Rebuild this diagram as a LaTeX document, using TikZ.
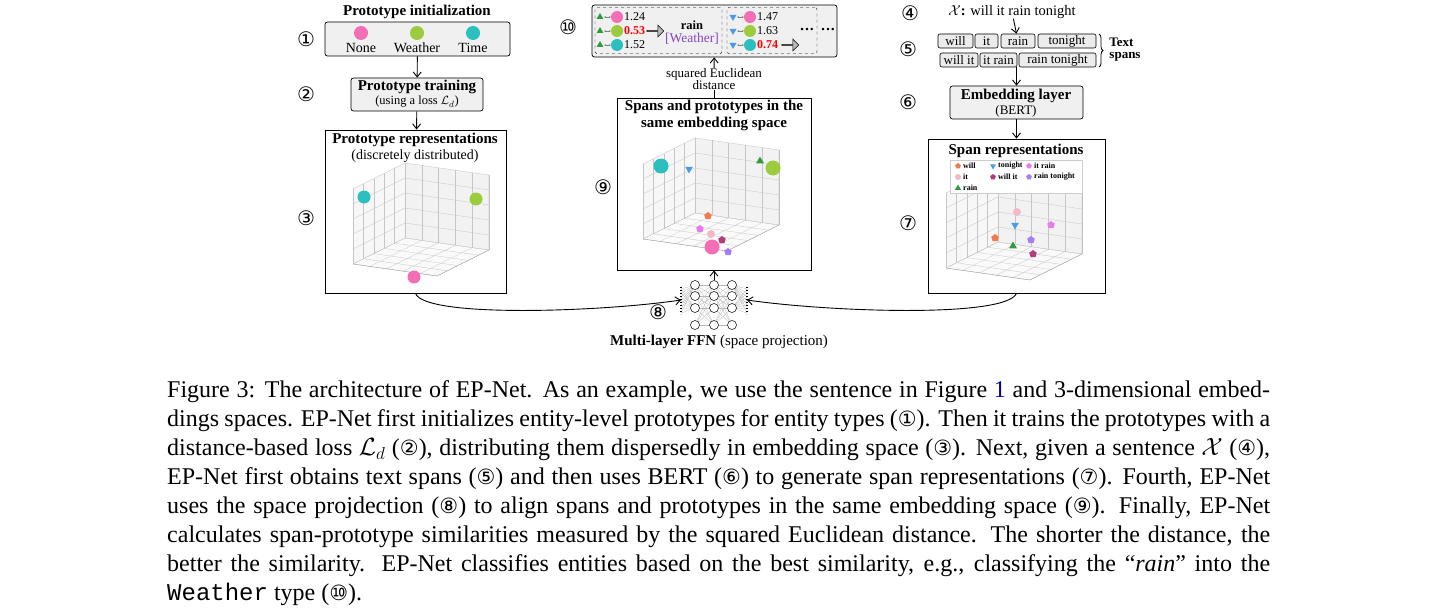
\documentclass[tikz,border=0pt]{standalone}
\usepackage{fontspec}
\setmainfont{Liberation Serif}
\setmonofont{Liberation Mono}
\newfontfamily\circf{DejaVu Sans}
\usetikzlibrary{arrows.meta, shapes.geometric, shapes.arrows, decorations.pathreplacing}

\definecolor{pinkc}{HTML}{F46EB6}
\definecolor{greenc}{HTML}{9CCB3E}
\definecolor{tealc}{HTML}{2BBFC0}
\definecolor{orangec}{HTML}{F07A4E}
\definecolor{lpinkc}{HTML}{F5B8C6}
\definecolor{magc}{HTML}{E77CF2}
\definecolor{dpinkc}{HTML}{B23C7C}
\definecolor{purpc}{HTML}{A57EF2}
\definecolor{bluec}{HTML}{4C9BEA}
\definecolor{gtric}{HTML}{2F9A3E}
\definecolor{wpurp}{HTML}{8A44C8}

\newcommand{\cn}[2][20]{{\circf\fontsize{#1}{#1}\selectfont #2}}

\tikzset{
  gbox/.style={draw, rounded corners=2.5pt, fill=gray!12, line width=0.7pt},
  pbox/.style={draw, line width=0.9pt},
  arr/.style={-{Straight Barb[length=5pt, width=8pt]}, line width=0.9pt},
  ttl/.style={font=\bfseries\fontsize{15}{15}\selectfont, inner sep=0},
  sub/.style={font=\fontsize{13}{13}\selectfont, inner sep=0},
  dot/.style={circle, inner sep=0, minimum size=#1},
  pent/.style={regular polygon, regular polygon sides=5, inner sep=0, minimum size=8pt},
  tri/.style={regular polygon, regular polygon sides=3, inner sep=0, minimum size=9pt},
  dtri/.style={tri, shape border rotate=180},
  gridl/.style={gray!45, line width=0.3pt},
  span/.style={draw, rounded corners=2pt, fill=gray!15, line width=0.6pt, inner sep=1pt,
    font=\fontsize{13}{13}\selectfont, minimum height=14pt},
  neur/.style={circle, draw, fill=white, inner sep=0, minimum size=9pt, line width=0.5pt},
  blk/.style={single arrow, draw, fill=gray!55, inner sep=0, minimum height=17pt,
    minimum width=12pt, single arrow head extend=2pt, line width=0.5pt},
}

% 3-d axes box, back corner at (#1,#2)
\newcommand{\spaceplot}[2]{%
  \begin{scope}[shift={(#1,#2)}]
    \fill[gray!6] (0,0) -- (-52,26) -- (-52,-49) -- (0,-75) -- cycle;
    \fill[gray!10] (0,0) -- (84,12) -- (84,-63) -- (0,-75) -- cycle;
    \fill[gray!4] (0,0) -- (-52,26) -- (32,38) -- (84,12) -- cycle;
    \foreach \t in {0,0.2,0.4,0.6,0.8,1} {
      \draw[gridl] (-52*\t,26*\t) -- (-52*\t,26*\t-75);
      \draw[gridl] (0,-75*\t) -- (-52,26-75*\t);
      \draw[gridl] (84*\t,12*\t) -- (84*\t,12*\t-75);
      \draw[gridl] (0,-75*\t) -- (84,12-75*\t);
      \draw[gridl] (-52*\t,26*\t) -- (-52*\t+84,26*\t+12);
      \draw[gridl] (84*\t,12*\t) -- (84*\t-52,12*\t+26);
    }
    \draw[gray!70, line width=0.4pt] (-52,26) -- (32,38) -- (84,12) -- (84,-63);
  \end{scope}}

\begin{document}
\begin{tikzpicture}[x=1pt, y=-1pt]
  \useasboundingbox[fill=white] (0,0) rectangle (1440,615);

  % ---- left column: prototypes
  \node[ttl] (initt) at (417,12) {Prototype initialization};
  \node[gbox, minimum width=185pt, minimum height=34pt] (init) at (417.5,39) {};
  \node[dot=14pt, fill=pinkc] (pnone) at (361,33) {};
  \node[dot=14pt, fill=greenc] (pweather) at (417,33) {};
  \node[dot=14pt, fill=tealc] (ptime) at (473,33) {};
  \foreach \x/\t in {361/None, 417/Weather, 473/Time}
    \node[font=\fontsize{14}{14}\selectfont, inner sep=0] (lab\t) at (\x,48) {\t};
  \node (c1) at (306,39) {\cn{①}};

  \node[gbox, minimum width=132pt, minimum height=33pt] (train) at (417,94.5) {};
  \node[ttl] (traint) at (417,87) {Prototype training};
  \node[sub, font=\fontsize{12.5}{13}\selectfont] (trains) at (417,102) {(using a loss $\mathcal{L}_d$)};
  \node (c2) at (306,94) {\cn{②}};

  \node[pbox, minimum width=181pt, minimum height=163pt] (prep) at (415.5,211.5) {};
  \spaceplot{405}{238}
  \node[ttl] (prept) at (415,140) {Prototype representations};
  \node[sub, font=\fontsize{14}{14}\selectfont] (preps) at (415,156) {(discretely distributed)};
  \node[dot=13pt, fill=tealc] at (364,197) {};
  \node[dot=13pt, fill=greenc] at (476,199) {};
  \node[dot=13pt, fill=pinkc] at (414,277) {};
  \node (c3) at (306,218) {\cn{③}};

  \draw[arr] (init) -- (train);
  \draw[arr] (train) -- (prep);

  % ---- middle column: similarities
  \node[gbox, minimum width=245pt, minimum height=52pt] (sim) at (714.5,31) {};
  \node[draw, dashed, rounded corners=2pt, minimum width=127pt, minimum height=46pt] (simL) at (658.5,30.5) {};
  \node[draw, dashed, rounded corners=2pt, minimum width=90pt, minimum height=46pt] (simR) at (772,30.5) {};
  \foreach \y/\c/\v in {17/pinkc/1.24, 31/greenc/{\textcolor{red}{\bfseries 0.53}}, 45/tealc/1.52} {
    \node[tri, fill=gtric, minimum size=8pt] (tl\y) at (600,\y) {};
    \draw[{Stealth[length=2pt]}-{Stealth[length=2pt]}, gray, line width=0.4pt] (604,\y) -- (611,\y);
    \node[dot=12pt, fill=\c] (cl\y) at (617,\y) {};
    \node[anchor=west, inner sep=0, font=\fontsize{12}{12}\selectfont] (vl\y) at (624,\y) {\v};
  }
  \node[blk] (bl) at (655,31) {};
  \node[inner sep=0, font=\bfseries\fontsize{12.5}{12}\selectfont] (rain) at (692,25) {rain};
  \node[inner sep=0, font=\fontsize{13.5}{13}\selectfont, text=wpurp] (wth) at (692,39) {[Weather]};
  \foreach \y/\c/\v in {17/pinkc/1.47, 31/greenc/1.63, 45/tealc/{\textcolor{red}{\bfseries 0.74}}} {
    \node[dtri, fill=bluec, minimum size=8pt] (tr\y) at (733,\y) {};
    \draw[{Stealth[length=2pt]}-{Stealth[length=2pt]}, gray, line width=0.4pt] (737,\y) -- (744,\y);
    \node[dot=12pt, fill=\c] (cr\y) at (750,\y) {};
    \node[anchor=west, inner sep=0, font=\fontsize{12}{12}\selectfont] (vr\y) at (757,\y) {\v};
  }
  \node[blk] (br) at (790,45) {};
  \node[inner sep=0, font=\bfseries\fontsize{15}{15}\selectfont] (dots1) at (807,31) {···};
  \node[inner sep=0, font=\bfseries\fontsize{15}{15}\selectfont] (dots2) at (828,31) {···};
  \node (c10) at (568,27) {\cn{⑩}};

  \node[sub, align=center, font=\fontsize{13}{12}\selectfont] (sqd) at (714,79) {squared Euclidean\\distance};

  \node[pbox, minimum width=194pt, minimum height=172pt] (sps) at (714,184) {};
  \spaceplot{695}{213}
  \node[ttl] (spst1) at (714,107) {Spans and prototypes in the};
  \node[ttl] (spst2) at (714,124) {same embedding space};
  \node[dot=15pt, fill=tealc] at (661,166) {};
  \node[dtri, fill=bluec] at (689,169) {};
  \node[tri, fill=gtric] at (760,161) {};
  \node[dot=15pt, fill=greenc] at (773,168) {};
  \node[pent, fill=orangec] at (708,216) {};
  \node[pent, fill=magc] at (700,229) {};
  \node[dot=8pt, fill=lpinkc] at (711,234) {};
  \node[pent, fill=dpinkc] at (722,240) {};
  \node[dot=15pt, fill=pinkc] at (712,247) {};
  \node[pent, fill=purpc] at (728,252) {};
  \node (c9) at (603,187) {\cn{⑨}};

  \draw[line width=0.9pt] (sps) -- (sqd);
  \draw[arr] (sqd) -- (sim);

  % ---- feed-forward net
  \foreach \i/\x in {1/695,2/714,3/732}
    \foreach \j/\y in {1/285,2/296,3/308,4/325}
      \coordinate (p\i\j) at (\x,\y);
  \foreach \j in {1,2,3,4} \foreach \k in {1,2,3,4} {
    \draw[gray!55, line width=0.3pt] (p1\j) -- (p2\k);
    \draw[gray!55, line width=0.3pt] (p2\j) -- (p3\k);
  }
  \coordinate (inL) at (681,300);
  \coordinate (inR) at (747,300);
  \foreach \k in {289,293,...,313} {
    \draw[gray!55, line width=0.3pt] (681,\k) -- (p11);
    \draw[gray!55, line width=0.3pt] (681,\k) -- (p13);
    \draw[gray!55, line width=0.3pt] (747,\k) -- (p31);
    \draw[gray!55, line width=0.3pt] (747,\k) -- (p33);
  }
  \foreach \i in {1,2,3} \foreach \j in {1,2,3,4}
    \node[neur] (n\i\j) at (p\i\j) {};
  \draw[line width=1.8pt, dash pattern=on 1.2pt off 1.8pt] (681,287) -- (681,314);
  \draw[line width=1.8pt, dash pattern=on 1.2pt off 1.8pt] (747,287) -- (747,314);
  \node (c8) at (658,312) {\cn{⑧}};
  \node[inner sep=0, font=\fontsize{15}{15}\selectfont] (ffn) at (719,342) {\textbf{Multi-layer FFN} (space projection)};
  \draw[arr] (n21) -- (sps);

  % ---- right column: spans
  \node[inner sep=0, font=\fontsize{14.5}{14}\selectfont] (sent) at (1012,12) {$\mathcal{X}$\textbf{:} will it rain tonight};
  \node (c4) at (910,13) {\cn{④}};
  \node[span, minimum width=35pt] (s1) at (955.5,41) {will};
  \node[span, minimum width=23pt] (s2) at (986.5,41) {it};
  \node[span, minimum width=34pt] (s3) at (1018,41) {rain};
  \node[span, minimum width=58pt] (s4) at (1067,41) {tonight};
  \node[span, minimum width=38pt] (s5) at (959,60) {will it};
  \node[span, minimum width=37pt] (s6) at (998.5,60) {it rain};
  \node[span, minimum width=77pt] (s7) at (1057.5,60) {rain tonight};
  \draw[decorate, decoration={brace, amplitude=4pt}, line width=0.8pt] (1099,34) -- (1099,67);
  \node[inner sep=0, align=left, font=\bfseries\fontsize{13}{12}\selectfont] (tsp) at (1125,50) {Text\\spans};
  \node (c5) at (908,49) {\cn{⑤}};

  \node[gbox, minimum width=133pt, minimum height=33pt] (emb) at (1016.5,102.5) {};
  \node[ttl] (embt) at (1016,96) {Embedding layer};
  \node[sub] (embs) at (1016,111) {(BERT)};
  \node (c6) at (908,102) {\cn{⑥}};

  \node[pbox, minimum width=177pt, minimum height=154pt] (srep) at (1016.5,216) {};
  \spaceplot{998}{242}
  \node[ttl] (srept) at (1016,151) {Span representations};
  \node[draw=gray!40, fill=white, minimum width=132pt, minimum height=33pt] (leg) at (1016,176.5) {};
  \begin{scope}[every node/.append style={font=\bfseries\fontsize{8}{8}\selectfont}]
    \node[pent, fill=orangec, minimum size=6pt] at (958,166) {};
    \node[anchor=west, inner sep=0] at (963,166) {will};
    \node[dot=6pt, fill=lpinkc] at (958,177) {};
    \node[anchor=west, inner sep=0] at (963,177) {it};
    \node[tri, fill=gtric, minimum size=7pt] at (958,188) {};
    \node[anchor=west, inner sep=0] at (963,188) {rain};
    \node[dtri, fill=bluec, minimum size=7pt] at (993,166) {};
    \node[anchor=west, inner sep=0] at (998,166) {tonight};
    \node[pent, fill=dpinkc, minimum size=6pt] at (993,177) {};
    \node[anchor=west, inner sep=0] at (998,177) {will it};
    \node[pent, fill=magc, minimum size=6pt] at (1029,166) {};
    \node[anchor=west, inner sep=0] at (1034,166) {it rain};
    \node[pent, fill=purpc, minimum size=6pt] at (1029,177) {};
    \node[anchor=west, inner sep=0] at (1034,177) {rain tonight};
  \end{scope}
  \node[dot=8pt, fill=lpinkc] at (1017,212) {};
  \node[dtri, fill=bluec] at (1015,225) {};
  \node[pent, fill=magc] at (1051,225) {};
  \node[pent, fill=orangec] at (995,238) {};
  \node[pent, fill=purpc] at (1031,240) {};
  \node[tri, fill=gtric] at (1013,246) {};
  \node[pent, fill=dpinkc] at (1033,254) {};
  \node (c7) at (908,223) {\cn{⑦}};

  \draw[arr] (sent) -- (s3);
  \draw[arr] (s6.south -| emb.north) -- (emb);
  \draw[arr] (emb) -- (srep);

  % ---- projections into the FFN
  \draw[arr] (prep.south) .. controls (425,318) and (600,312) .. (inL);
  \draw[arr] (srep.south) .. controls (1005,318) and (830,312) .. (inR);

  % ---- caption
  \node[anchor=north west, inner sep=0, text width=1103pt, align=justify,
    font=\fontsize{24}{29.1}\selectfont] (cap) at (167,380) {%
    Figure 3: The architecture of EP-Net. As an example, we use the sentence in Figure \textcolor{blue!60!black}{1} and 3-dimensional embed-\linebreak
    dings spaces. EP-Net first initializes entity-level prototypes for entity types (\cn[21]{①}). Then it trains the prototypes with a\linebreak
    distance-based loss $\mathcal{L}_d$ (\cn[21]{②}), distributing them dispersedly in embedding space (\cn[21]{③}). Next, given a sentence $\mathcal{X}$ (\cn[21]{④}),\linebreak
    EP-Net first obtains text spans (\cn[21]{⑤}) and then uses BERT (\cn[21]{⑥}) to generate span representations (\cn[21]{⑦}). Fourth, EP-Net\linebreak
    uses the space projdection (\cn[21]{⑧}) to align spans and prototypes in the same embedding space (\cn[21]{⑨}). Finally, EP-Net\linebreak
    calculates span-prototype similarities measured by the squared Euclidean distance. The shorter the distance, the\linebreak
    better the similarity. EP-Net classifies entities based on the best similarity, e.g., classifying the ``\textit{rain}'' into the\linebreak
    \texttt{Weather} type (\cn[21]{⑩}).};
\end{tikzpicture}
\end{document}
